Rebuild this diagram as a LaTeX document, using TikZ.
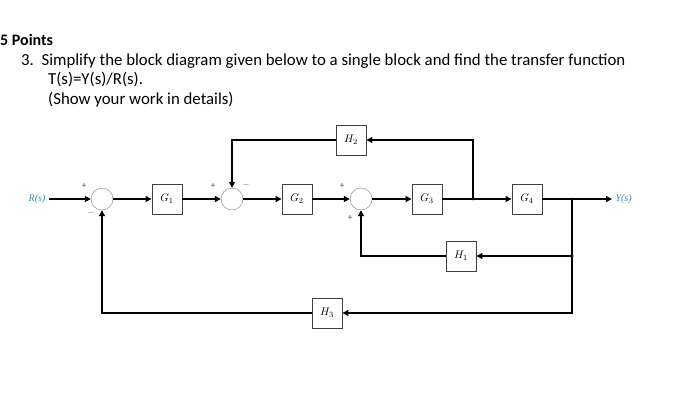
\documentclass[tikz,border=0pt]{standalone}
\usepackage{fontspec}
\setmainfont{Carlito}
\newfontfamily\serifm{Liberation Serif}
\usetikzlibrary{arrows.meta}
\begin{document}
\begin{tikzpicture}[x=1pt,y=-1pt,
  blk/.style={draw=black!75,line width=0.9pt,minimum width=30pt,minimum height=30pt,inner sep=0pt,font=\fontsize{11}{13}\selectfont},
  sum/.style={draw=black!50,circle,minimum size=22pt,inner sep=0pt},
  sig/.style={line width=1.4pt,-{Triangle[length=6pt,width=6pt]}},
  ln/.style={line width=1.4pt},
  sg/.style={font=\small,text=black!70},
  io/.style={font=\serifm\itshape\fontsize{10}{12}\selectfont,text=cyan!60!black},
  txt/.style={anchor=west,inner sep=0pt,font=\fontsize{16.8}{19}\selectfont}]
\useasboundingbox (0,0) rectangle (700,402);
\node[txt,font=\bfseries\fontsize{16}{19}\selectfont] (pts) at (0,40) {5 Points};
\node[txt] (q1) at (21,61) {3.\ \ Simplify the block diagram given below to a single block and find the transfer function};
\node[txt] (q2) at (48,80) {T(s)=Y(s)/R(s).};
\node[txt] (q3) at (48,100) {(Show your work in details)};
\node[io] (R) at (37,199) {R(s)};
\node[sum] (s1) at (102,199) {};
\node[blk] (G1) at (167,199) {$G_1$};
\node[sum] (s2) at (232,199) {};
\node[blk] (G2) at (297,199) {$G_2$};
\node[sum] (s3) at (361,199) {};
\node[blk] (G3) at (427,199) {$G_3$};
\node[blk] (G4) at (527,199) {$G_4$};
\node[io,anchor=west] (Y) at (612,199) {Y(s)};
\node[blk] (H2) at (351,140) {$H_2$};
\node[blk] (H1) at (461,256) {$H_1$};
\node[blk] (H3) at (327,313) {$H_3$};
\coordinate (b1) at (473,199);
\coordinate (b2) at (572,199);
\fill (b1) circle (1.5pt) (b2) circle (1.5pt) (572,256) circle (1.5pt);
\draw[sig] (R) -- (s1);
\draw[sig] (s1) -- (G1);
\draw[sig] (G1) -- (s2);
\draw[sig] (s2) -- (G2);
\draw[sig] (G2) -- (s3);
\draw[sig] (s3) -- (G3);
\draw[ln] (G3) -- (b1);
\draw[sig] (b1) -- (G4);
\draw[ln] (G4) -- (b2);
\draw[sig] (b2) -- (Y);
\draw[sig] (b1) |- (H2);
\draw[sig] (H2) -| (s2);
\draw[sig] (b2) |- (H1);
\draw[sig] (H1) -| (s3);
\draw[sig] (b2) |- (H3);
\draw[sig] (H3) -| (s1);
\node[sg] at (84,186) {+};
\node[sg] at (91,213) {$-$};
\node[sg] at (213,186) {+};
\node[sg] at (246,185) {$-$};
\node[sg] at (342,186) {+};
\node[sg] at (350,218) {+};
\end{tikzpicture}
\end{document}
